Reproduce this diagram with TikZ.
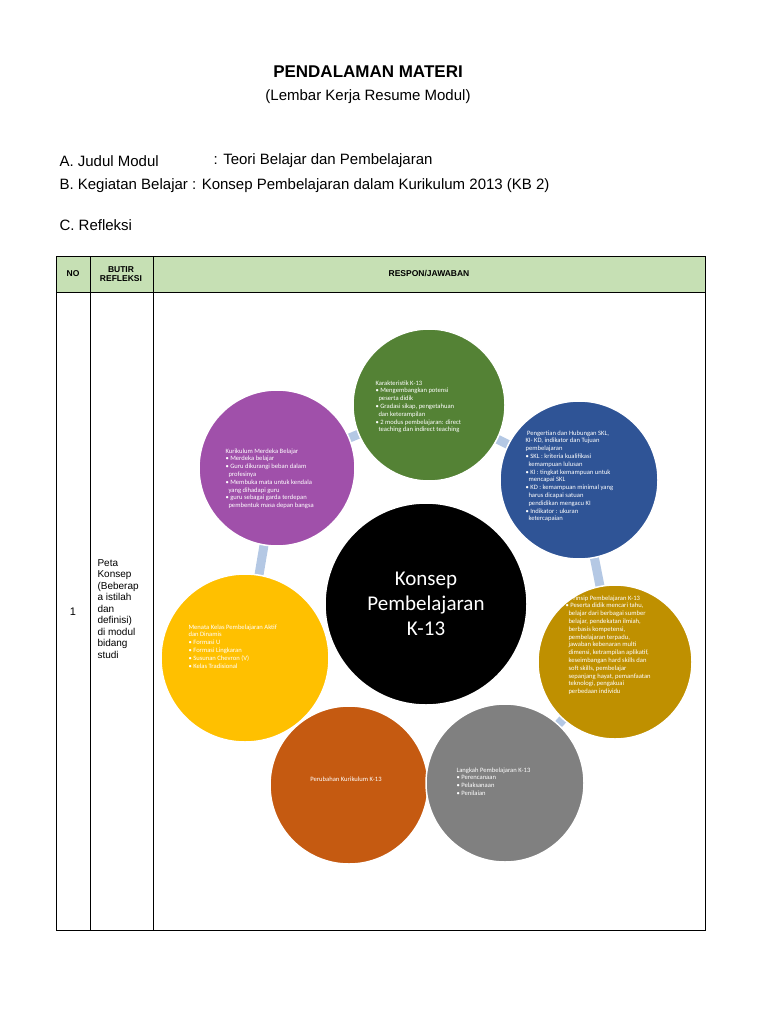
\documentclass[tikz,border=0pt]{standalone}
\usepackage{fontspec}
\setmainfont{Liberation Sans}
\newfontfamily\carlitofont{Carlito}
\begin{document}
\begin{tikzpicture}[x=1pt,y=-1pt,
  circ/.style={circle,draw=white,line width=1.5pt,minimum size=#1,inner sep=0pt},
  ctext/.style={text=white,font=\carlitofont\fontsize{6.6}{7.8}\selectfont,align=left},
  link/.style={draw={rgb,255:red,180;green,200;blue,228},line width=9pt},
  hdr/.style={font=\bfseries\fontsize{8.5}{9.5}\selectfont,align=center}]
\useasboundingbox (0,0) rectangle (768,1024);
\node[font=\bfseries\fontsize{17}{20}\selectfont] (title) at (368,72) {PENDALAMAN MATERI};
\node[font=\fontsize{15}{18}\selectfont] (sub) at (368,97) {(Lembar Kerja Resume Modul)};
\node[font=\fontsize{15}{18}\selectfont,anchor=west] (a) at (56,161) {A. Judul Modul};
\node[font=\fontsize{15}{18}\selectfont,anchor=west] (a2) at (210,161) {: Teori Belajar dan Pembelajaran};
\node[font=\fontsize{15}{18}\selectfont,anchor=west] (b) at (56,186) {B. Kegiatan Belajar : Konsep Pembelajaran dalam Kurikulum 2013 (KB 2)};
\node[font=\fontsize{15}{18}\selectfont,anchor=west] (c) at (56,225) {C. Refleksi};
% table
\fill[fill={rgb,255:red,198;green,224;blue,180}] (56,256) rectangle (705,292);
\draw[line width=0.8pt] (56,256) rectangle (705,930);
\draw[line width=0.8pt] (56,292) -- (705,292);
\draw[line width=0.8pt] (90,256) -- (90,930);
\draw[line width=0.8pt] (153,256) -- (153,930);
\node[hdr] (no) at (73,274) {NO};
\node[hdr] (butir) at (121,274) {BUTIR\\REFLEKSI};
\node[hdr] (resp) at (429,274) {RESPON/JAWABAN};
\node[font=\fontsize{11}{13}\selectfont] (n1) at (73,612) {1};
\node[font=\fontsize{10}{11.5}\selectfont,align=left,anchor=north west] (peta) at (94,556) {Peta\\Konsep\\(Beberap\\a istilah\\dan\\definisi)\\di modul\\bidang\\studi};
% coordinates of circles
\coordinate (pG) at (429,405);
\coordinate (pB) at (579,480);
\coordinate (pP) at (277,468);
\coordinate (pK) at (426,604);
\coordinate (pO) at (615,662);
\coordinate (pY) at (245,658);
\coordinate (pR) at (349,785);
\coordinate (pS) at (505,783);
\draw[link] (pP) -- (pG) -- (pB) -- (pO) -- (pS) -- (pR) -- (pY) -- (pP);
\node[circ=152pt,fill={rgb,255:red,84;green,130;blue,53}] (green) at (pG) {};
\node[circ=158pt,fill={rgb,255:red,47;green,84;blue,150}] (blue) at (pB) {};
\node[circ=156pt,fill={rgb,255:red,160;green,80;blue,170}] (purple) at (pP) {};
\node[circ=202pt,fill=black] (black) at (pK) {};
\node[circ=154pt,fill={rgb,255:red,191;green,144;blue,0}] (gold) at (pO) {};
\node[circ=168pt,fill={rgb,255:red,255;green,192;blue,0}] (yellow) at (pY) {};
\node[circ=158pt,fill={rgb,255:red,197;green,90;blue,17}] (orange) at (pR) {};
\node[circ=158pt,fill={rgb,255:red,128;green,128;blue,128}] (gray) at (pS) {};
\node[text=white,font=\carlitofont\fontsize{21}{25}\selectfont,align=center] (kt) at (pK) {Konsep\\Pembelajaran\\K-13};
\node[ctext,anchor=north west] (gt) at (372,377) {Karakteristik K-13\\
\textbullet\ Mengembangkan potensi\\\ \ peserta didik\\
\textbullet\ Gradasi sikap, pengetahuan\\\ \ dan keterampilan\\
\textbullet\ 2 modus pembelajaran: direct\\\ \ teaching dan indirect teaching};
\node[ctext,anchor=north west] (bt) at (522,427) {\ Pengertian dan Hubungan SKL,\\KI- KD, indikator dan Tujuan\\pembelajaran\\
\textbullet\ SKL : kriteria kualifikasi\\\ \ kemampuan lulusan\\
\textbullet\ KI : tingkat kemampuan untuk\\\ \ mencapai SKL\\
\textbullet\ KD : kemampuan minimal yang\\\ \ harus dicapai satuan\\\ \ pendidikan mengacu KI\\
\textbullet\ Indikator : ukuran\\\ \ ketercapaian};
\node[ctext,anchor=north west] (pt) at (222,445) {Kurikulum Merdeka Belajar\\
\textbullet\ Merdeka belajar\\
\textbullet\ Guru dikurangi beban dalam\\\ \ profesinya\\
\textbullet\ Membuka mata untuk kendala\\\ \ yang dihadapi guru\\
\textbullet\ guru sebagai garda terdepan\\\ \ pembentuk masa depan bangsa};
\node[ctext,anchor=north west] (ot) at (562,592) {\ \ \ Prinsip Pembelajaran K-13\\
\textbullet\ Peserta didik mencari tahu,\\\ \ belajar dari berbagai sumber\\\ \ belajar, pendekatan ilmiah,\\\ \ berbasis kompetensi,\\\ \ pembelajaran terpadu,\\\ \ jawaban kebenaran multi\\\ \ dimensi, ketrampilan aplikatif,\\\ \ keseimbangan hard skills dan\\\ \ soft skills, pembelajar\\\ \ sepanjang hayat, pemanfaatan\\\ \ teknologi, pengakuai\\\ \ perbedaan individu};
\node[ctext,anchor=north west] (yt) at (185,621) {Menata Kelas Pembelajaran Aktif\\dan Dinamis\\
\textbullet\ Formasi U\\
\textbullet\ Formasi Lingkaran\\
\textbullet\ Susunan Chevron (V)\\
\textbullet\ Kelas Tradisional};
\node[ctext] (rt) at (346,779) {Perubahan Kurikulum K-13};
\node[ctext,anchor=north west] (st) at (453,764) {Langkah Pembelajaran K-13\\
\textbullet\ Perencanaan\\
\textbullet\ Pelaksanaan\\
\textbullet\ Penilaian};
\end{tikzpicture}
\end{document}
